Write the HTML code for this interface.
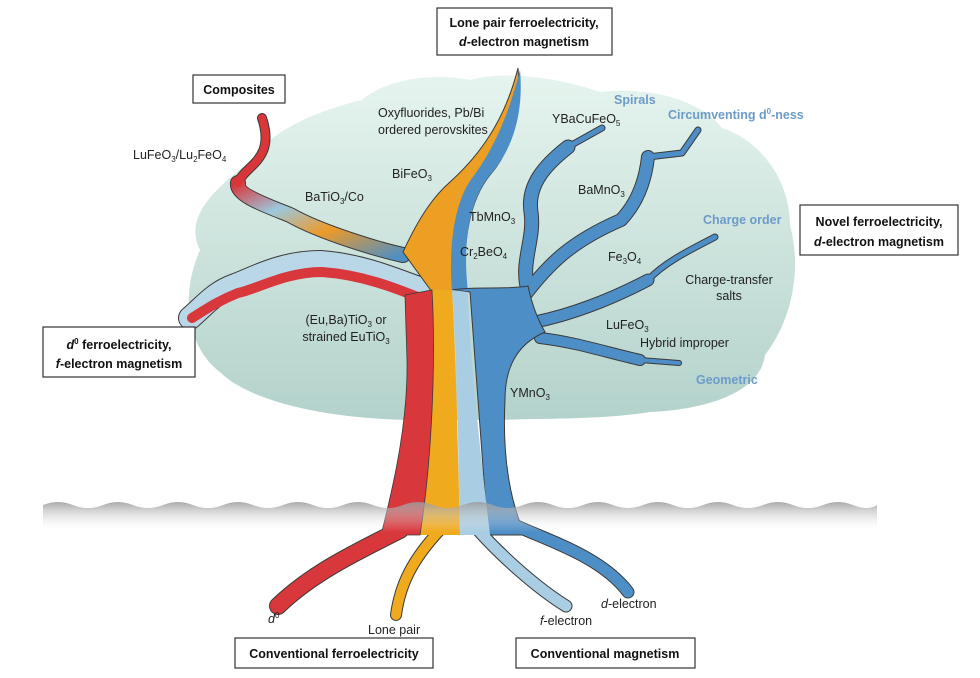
<!DOCTYPE html>
<html><head><meta charset="utf-8">
<style>
html,body{margin:0;padding:0;background:#fff;}
svg{display:block;}
text{font-family:"Liberation Sans",sans-serif;font-size:12.5px;fill:#222;}
.b{font-weight:bold;font-size:12.5px;fill:#111;}
.bl{fill:#6d9bc9;font-weight:bold;font-size:12.5px;}
</style></head><body>
<svg width="980" height="678" viewBox="0 0 980 678" xmlns="http://www.w3.org/2000/svg">
<defs>
<linearGradient id="can" x1="0" y1="0" x2="0" y2="1">
<stop offset="0" stop-color="#e6f4ee"/><stop offset="1" stop-color="#b3d2cb"/>
</linearGradient>
<linearGradient id="gr" x1="0" y1="0" x2="0" y2="1">
<stop offset="0" stop-color="#9a9a9a" stop-opacity="0.85"/><stop offset="1" stop-color="#ffffff" stop-opacity="0"/>
</linearGradient>
<linearGradient id="comp" x1="0" y1="0" x2="1" y2="1">
<stop offset="0" stop-color="#d9363a"/><stop offset="0.3" stop-color="#9cc8de"/><stop offset="0.6" stop-color="#ec9a2a"/><stop offset="1" stop-color="#4f8fc4"/>
</linearGradient>
</defs>
<!-- canopy -->
<path d="M200,250 C182,215 220,185 252,160 C270,130 320,110 362,100 C385,80 430,72 470,80 C505,70 560,78 600,92 C650,86 700,100 722,128 C760,140 790,180 790,225 C802,270 792,320 765,355 C760,395 700,410 650,412 C600,420 540,418 500,420 L420,420 C330,420 250,402 220,372 C190,350 178,300 200,250 Z" fill="url(#can)"/>
<!-- outlines -->
<g fill="none" stroke="#3a3a3a" stroke-linecap="round" stroke-linejoin="round">
<path d="M528,290 C520,262 535,240 531,212 C527,185 545,165 568,147" stroke-width="15"/>
<path d="M568,147 L602,128" stroke-width="7"/>
<path d="M525,295 C548,265 570,242 621,220 C640,200 646,175 648,157" stroke-width="14"/>
<path d="M648,157 L682,153 L698,130" stroke-width="7"/>
<path d="M535,322 C570,315 610,300 648,280" stroke-width="13"/>
<path d="M648,280 C665,262 690,250 715,237" stroke-width="7"/>
<path d="M540,338 C575,342 605,352 640,360" stroke-width="12"/>
<path d="M640,360 L679,363" stroke-width="6"/>
<path d="M403,255 C380,250 322,233 290,215 C265,205 236,195 238,183" stroke-width="16"/>
<path d="M238,183 C245,165 276,160 262,118" stroke-width="10"/>
<path d="M430,292 C400,282 365,265 320,262 C280,262 250,280 235,285 C215,292 205,305 190,318" stroke-width="24"/>
<path d="M400,530 C350,555 310,575 278,606" stroke-width="18"/>
<path d="M440,530 C412,560 400,585 396,615" stroke-width="12"/>
<path d="M478,530 C505,560 540,590 566,606" stroke-width="13"/>
<path d="M508,522 C545,540 600,555 628,592" stroke-width="13"/>
</g>
<!-- right blue branches -->
<g fill="none" stroke="#4e8ec6" stroke-linecap="round" stroke-linejoin="round">
<path d="M528,290 C520,262 535,240 531,212 C527,185 545,165 568,147" stroke-width="13"/>
<path d="M568,147 L602,128" stroke-width="5"/>
<path d="M525,295 C548,265 570,242 621,220 C640,200 646,175 648,157" stroke-width="12"/>
<path d="M648,157 L682,153 L698,130" stroke-width="5"/>
<path d="M535,322 C570,315 610,300 648,280" stroke-width="11"/>
<path d="M648,280 C665,262 690,250 715,237" stroke-width="5"/>
<path d="M540,338 C575,342 605,352 640,360" stroke-width="10"/>
<path d="M640,360 L679,363" stroke-width="4"/>
</g>
<!-- composites branch -->
<path d="M403,255 C380,250 322,233 290,215 C265,205 236,195 238,183" fill="none" stroke="url(#comp)" stroke-width="14" stroke-linecap="round"/>
<path d="M238,183 C245,165 276,160 262,118" fill="none" stroke="#d9363a" stroke-width="8" stroke-linecap="round"/>
<!-- lower left branch -->
<path d="M430,292 C400,282 365,265 320,262 C280,262 250,280 235,285 C215,292 205,305 190,318" fill="none" stroke="#b9d7e6" stroke-width="22" stroke-linecap="round"/>
<path d="M425,300 C400,290 365,275 322,272 C285,272 255,290 238,293 C220,300 208,308 192,318" fill="none" stroke="#d8373b" stroke-width="10" stroke-linecap="round"/>
<!-- main up branch -->
<path d="M403,252 C420,215 435,195 450,182 C480,155 505,120 518,68 C522,110 512,150 490,175 C470,200 462,240 466,290 L432,292 Z" fill="#ec9f22" stroke="#3a3a3a" stroke-width="1"/>
<path d="M520,70 C524,115 512,150 490,175 C470,200 462,240 468,292 L452,292 C448,240 456,200 472,178 C495,148 510,110 520,70 Z" fill="#4e8ec6"/>
<!-- trunk -->
<path d="M452,290 C475,286 505,290 528,286 C532,305 538,320 545,332 C515,345 505,370 505,400 C503,440 505,490 525,535 L488,535 L470,292 Z" fill="#4e8ec6" stroke="#3a3a3a" stroke-width="1"/>
<path d="M452,290 L468,292 C470,360 480,450 490,535 L460,535 C458,460 458,360 452,290 Z" fill="#a9cde2"/>
<path d="M432,290 L452,290 C456,360 458,450 460,535 L420,535 C430,460 436,360 432,290 Z" fill="#f0aa1e"/>
<path d="M405,295 L432,290 C436,360 432,460 420,535 L381,535 C395,480 408,420 407,360 Z" fill="#d8373b" stroke="#3a3a3a" stroke-width="0.8"/>
<!-- roots -->
<g fill="none" stroke-linecap="round">
<path d="M400,530 C350,555 310,575 278,606" stroke="#d8373b" stroke-width="16"/>
<path d="M440,530 C412,560 400,585 396,615" stroke="#f0aa1e" stroke-width="10"/>
<path d="M478,530 C505,560 540,590 566,606" stroke="#a9cde2" stroke-width="11"/>
<path d="M508,522 C545,540 600,555 628,592" stroke="#4e8ec6" stroke-width="11"/>
</g>
<!-- ground -->
<path d="M43,505 Q58,499 73,505 T103,505 T133,505 T163,505 T193,505 T223,505 T253,505 T283,505 T313,505 T343,505 T373,505 T403,505 T433,505 T463,505 T493,505 T523,505 T553,505 T583,505 T613,505 T643,505 T673,505 T703,505 T733,505 T763,505 T793,505 T823,505 T853,505 T877,505 L877,532 L43,532 Z" fill="url(#gr)"/>
<!-- boxes -->
<g fill="#fff" stroke="#333" stroke-width="1.2">
<rect x="437" y="8" width="175" height="47"/>
<rect x="193" y="75" width="92" height="28"/>
<rect x="800" y="205" width="158" height="50"/>
<rect x="43" y="327" width="152" height="50"/>
<rect x="235" y="638" width="198" height="30"/>
<rect x="516" y="638" width="179" height="30"/>
</g>
<text class="b" x="524" y="27" text-anchor="middle">Lone pair ferroelectricity,</text>
<text class="b" x="524" y="46" text-anchor="middle"><tspan font-style="italic">d</tspan>-electron magnetism</text>
<text class="b" x="239" y="94" text-anchor="middle">Composites</text>
<text class="b" x="879" y="226" text-anchor="middle">Novel ferroelectricity,</text>
<text class="b" x="879" y="246" text-anchor="middle"><tspan font-style="italic">d</tspan>-electron magnetism</text>
<text class="b" x="119" y="349" text-anchor="middle"><tspan font-style="italic">d</tspan><tspan font-size="8" dy="-5">0</tspan><tspan dy="5"> ferroelectricity,</tspan></text>
<text class="b" x="119" y="368" text-anchor="middle"><tspan font-style="italic">f</tspan>-electron magnetism</text>
<text class="b" x="334" y="658" text-anchor="middle">Conventional ferroelectricity</text>
<text class="b" x="605" y="658" text-anchor="middle">Conventional magnetism</text>
<!-- labels -->
<text x="133" y="159">LuFeO<tspan font-size="8" dy="3">3</tspan><tspan dy="-3">/Lu</tspan><tspan font-size="8" dy="3">2</tspan><tspan dy="-3">FeO</tspan><tspan font-size="8" dy="3">4</tspan></text>
<text x="378" y="117">Oxyfluorides, Pb/Bi</text>
<text x="378" y="134">ordered perovskites</text>
<text x="392" y="178">BiFeO<tspan font-size="8" dy="3">3</tspan></text>
<text x="305" y="201">BaTiO<tspan font-size="8" dy="3">3</tspan><tspan dy="-3">/Co</tspan></text>
<text x="552" y="123">YBaCuFeO<tspan font-size="8" dy="3">5</tspan></text>
<text class="bl" x="614" y="104">Spirals</text>
<text class="bl" x="668" y="119">Circumventing d<tspan font-size="8" dy="-5">0</tspan><tspan dy="5">-ness</tspan></text>
<text x="578" y="194">BaMnO<tspan font-size="8" dy="3">3</tspan></text>
<text x="469" y="221">TbMnO<tspan font-size="8" dy="3">3</tspan></text>
<text x="460" y="256">Cr<tspan font-size="8" dy="3">2</tspan><tspan dy="-3">BeO</tspan><tspan font-size="8" dy="3">4</tspan></text>
<text class="bl" x="703" y="224">Charge order</text>
<text x="608" y="261">Fe<tspan font-size="8" dy="3">3</tspan><tspan dy="-3">O</tspan><tspan font-size="8" dy="3">4</tspan></text>
<text x="729" y="284" text-anchor="middle">Charge-transfer</text>
<text x="729" y="300" text-anchor="middle">salts</text>
<text x="606" y="329">LuFeO<tspan font-size="8" dy="3">3</tspan></text>
<text x="640" y="347">Hybrid improper</text>
<text class="bl" x="696" y="384">Geometric</text>
<text x="346" y="324" text-anchor="middle">(Eu,Ba)TiO<tspan font-size="8" dy="3">3</tspan><tspan dy="-3"> or</tspan></text>
<text x="346" y="341" text-anchor="middle">strained EuTiO<tspan font-size="8" dy="3">3</tspan></text>
<text x="510" y="397">YMnO<tspan font-size="8" dy="3">3</tspan></text>
<text x="268" y="623" font-style="italic">d<tspan font-size="8" dy="-5" font-style="normal">0</tspan></text>
<text x="368" y="634">Lone pair</text>
<text x="540" y="625"><tspan font-style="italic">f</tspan>-electron</text>
<text x="601" y="608"><tspan font-style="italic">d</tspan>-electron</text>
</svg>
</body></html>
